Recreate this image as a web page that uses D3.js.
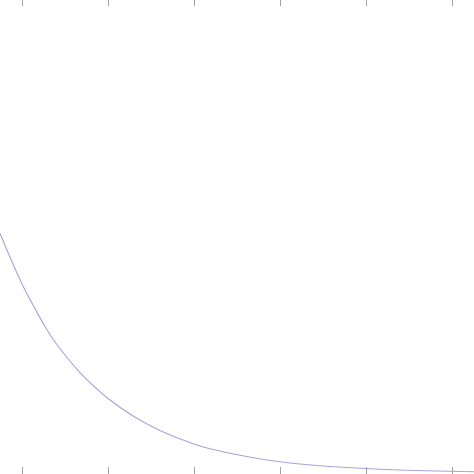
<!DOCTYPE html>
<html>
<head>
<meta charset="utf-8">
<script src="https://cdn.jsdelivr.net/npm/d3@7"></script>
<style>
  html, body { margin: 0; padding: 0; background: #fff; }
  svg { display: block; }
</style>
</head>
<body>
<svg id="chart" width="474" height="474"></svg>
<script>
// values (x in tick units, y in arbitrary units)
var xTicks = [1, 2, 3, 4, 5, 6];
var xValues = [0.744, 0.895, 1.035, 1.128, 1.244, 1.36, 1.523, 1.674, 1.872, 2.0,
               2.291, 2.605, 2.919, 3.151, 3.535, 4.0, 4.465, 4.988, 5.477, 6.256];
var yValues = [50.8, 44.3, 38.8, 35.65, 31.86, 28.48, 24.58, 21.41, 17.93, 15.93,
               12.24, 9.18, 6.86, 5.49, 3.97, 2.59, 1.75, 1.16, 0.8, 0.49];

var svg = d3.select("#chart"),
    width = +svg.attr("width"),
    height = +svg.attr("height");

var x = d3.scaleLinear()
    .domain([1 - 22 / 86, 1 + (width - 22) / 86])
    .range([0, width]);

var y = d3.scaleLinear()
    .domain([0, 100])
    .range([height, 0]);

var data = xValues.map(function(d, i) { return {x: d, y: yValues[i]}; });

// ticks only, the axis lines sit outside the crop
svg.append("g")
    .call(d3.axisBottom(x).tickValues(xTicks).tickSize(6).tickFormat(""));
svg.append("g")
    .attr("transform", "translate(0," + height + ")")
    .call(d3.axisTop(x).tickValues(xTicks).tickSize(7).tickFormat(""));

svg.selectAll(".domain").remove();
svg.selectAll(".tick line").attr("stroke", "#a0a0a0").attr("stroke-width", 1);

var line = d3.line()
    .x(function(d) { return x(d.x); })
    .y(function(d) { return y(d.y); })
    .curve(d3.curveCatmullRom);

svg.append("path")
    .datum(data)
    .attr("fill", "none")
    .attr("stroke", "#a4a4dd")
    .attr("stroke-width", 1.1)
    .attr("d", line);
</script>
</body>
</html>
